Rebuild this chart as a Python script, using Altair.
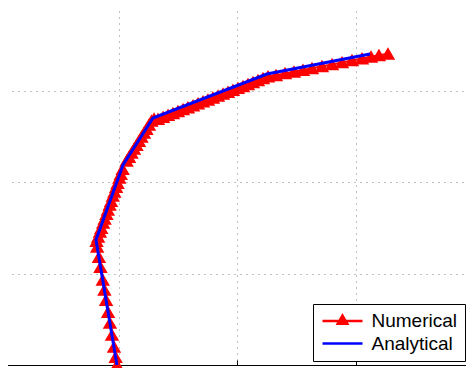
import altair as alt
import pandas as pd

# ---- data (axis units: 4 grid intervals each way) ----
ana_x = [0.987, 0.810, 1.038, 1.291, 2.253, 3.122]
ana_y = [0.000, 1.366, 2.186, 2.699, 3.180, 3.399]

num_x = [0.987, 0.976, 0.962, 0.945, 0.928, 0.912, 0.895, 0.881, 0.867, 0.848, 0.835, 0.820,
         0.815, 0.828, 0.843, 0.855, 0.870, 0.883, 0.898, 0.910, 0.925, 0.937, 0.952, 0.965,
         0.980, 0.992, 1.007, 1.019, 1.035,
         1.068, 1.089, 1.110, 1.131, 1.152, 1.173, 1.194, 1.215, 1.236, 1.257, 1.278, 1.300,
         1.333, 1.376, 1.418, 1.460, 1.502, 1.544, 1.586, 1.629, 1.671, 1.713, 1.755, 1.797,
         1.840, 1.882, 1.924, 1.966, 2.008, 2.051, 2.093, 2.135, 2.177, 2.219, 2.262,
         2.329, 2.405, 2.481, 2.557, 2.633, 2.717, 2.802, 2.886, 2.970, 3.055, 3.131, 3.198, 3.274]
num_y = [0.000, 0.087, 0.197, 0.328, 0.459, 0.579, 0.710, 0.820, 0.929, 1.071, 1.180, 1.290,
         1.355, 1.399, 1.454, 1.497, 1.552, 1.596, 1.650, 1.694, 1.749, 1.792, 1.847, 1.891,
         1.945, 1.989, 2.044, 2.087, 2.142,
         2.230, 2.273, 2.317, 2.361, 2.404, 2.448, 2.492, 2.536, 2.579, 2.623, 2.667, 2.689,
         2.687, 2.709, 2.730, 2.751, 2.772, 2.793, 2.814, 2.835, 2.857, 2.878, 2.898, 2.920,
         2.941, 2.962, 2.983, 3.004, 3.025, 3.046, 3.068, 3.089, 3.110, 3.132, 3.152,
         3.166, 3.186, 3.204, 3.224, 3.243, 3.264, 3.285, 3.306, 3.328, 3.349, 3.368, 3.385, 3.401]

series = ["Numerical", "Analytical"]
colors = ["#ff0000", "#0000ff"]
x_domain = [0, 4]
y_domain = [0, 4]
x_ticks = [1, 2, 3]
y_ticks = [1, 2, 3]

df_num = pd.DataFrame({"x": num_x, "y": num_y, "i": list(range(len(num_x))), "series": series[0]})
df_ana = pd.DataFrame({"x": ana_x, "y": ana_y, "i": list(range(len(ana_x))), "series": series[1]})

xs = alt.Scale(domain=x_domain, nice=False, zero=False)
ys = alt.Scale(domain=y_domain, nice=False, zero=False)


def ax(orient, grid, values):
    return alt.Axis(orient=orient, values=values, labels=False, domain=False, ticks=True,
                    tickSize=5, tickColor="black", tickWidth=1, offset=-5, grid=grid,
                    gridColor="#808080", gridDash=[1, 5], gridWidth=1, gridOpacity=1, title=None)


legend = alt.Legend(
    title=None, orient="none", legendX=313, legendY=305, direction="vertical",
    symbolType=alt.ExprRef(expr="datum.value == 'Numerical' ? 'M-4,0H4M0,-1.1L0.95,0.55L-0.95,0.55Z' : 'M-4,0H4'"),
    symbolFillColor=alt.ExprRef(expr="datum.value == 'Numerical' ? '#ff0000' : 'transparent'"),
    symbolSize=100, symbolStrokeWidth=2.5, symbolOffset=12.5,
    labelOffset=19.5, labelFont="Liberation Sans", labelFontSize=19, labelColor="black",
    padding=7.5, rowPadding=2.5, strokeColor="black", fillColor="white", cornerRadius=0,
)

color_leg = alt.Color("series:N", scale=alt.Scale(domain=series, range=colors), legend=legend)
color_no = alt.Color("series:N", scale=alt.Scale(domain=series, range=colors), legend=None)

red_line = alt.Chart(df_num).mark_line(strokeWidth=2).encode(
    x=alt.X("x:Q", scale=xs, axis=ax("bottom", True, x_ticks)),
    y=alt.Y("y:Q", scale=ys, axis=ax("left", True, y_ticks)),
    color=color_leg,
    order=alt.Order("i:Q"),
)

red_pts = alt.Chart(df_num).mark_point(shape="triangle-up", filled=True, size=140, opacity=1,
                                       strokeWidth=1.5).encode(
    x=alt.X("x:Q", scale=xs, axis=None),
    y=alt.Y("y:Q", scale=ys, axis=None),
    color=color_no,
    stroke=alt.Stroke("series:N", scale=alt.Scale(domain=series, range=colors), legend=None),
)

blue_line = alt.Chart(df_ana).mark_line(strokeWidth=3).encode(
    x=alt.X("x:Q", scale=xs, axis=ax("top", False, x_ticks)),
    y=alt.Y("y:Q", scale=ys, axis=ax("right", False, y_ticks)),
    color=color_no,
    order=alt.Order("i:Q"),
)

chart = (
    alt.layer(red_line, red_pts, blue_line)
    .resolve_axis(x="independent", y="independent")
    .properties(
        width=474, height=366,
        padding={"left": -8, "top": -9, "right": -8, "bottom": 3},
        autosize=alt.AutoSizeParams(type="none"),
        background="white",
    )
    .configure_view(stroke="black", strokeWidth=1)
)

chart.save("out.html", embed_options={"renderer": "svg", "actions": False})
